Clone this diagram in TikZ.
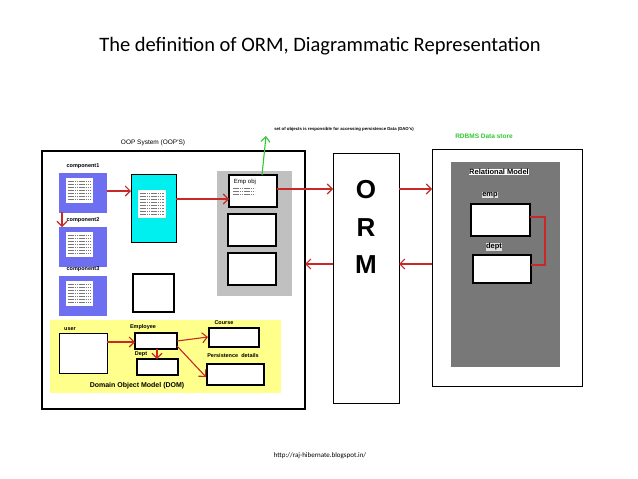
\documentclass[tikz,border=0pt]{standalone}
\usepackage{fontspec}
\setmainfont{Carlito}
\newfontfamily\ars{Liberation Sans}
\usetikzlibrary{arrows.meta}
\definecolor{comp}{RGB}{110,110,240}
\definecolor{cyanb}{RGB}{0,240,240}
\definecolor{lgrey}{RGB}{192,192,192}
\definecolor{dgrey}{RGB}{120,120,120}
\definecolor{yel}{RGB}{255,255,140}
\definecolor{redl}{RGB}{200,40,40}
\definecolor{grn}{RGB}{50,200,50}
\begin{document}
\begin{tikzpicture}[x=1pt,y=-1pt,
 box/.style={draw=black,line width=1.2pt,fill=white},
 arr/.style={draw=redl,line width=1.1pt,-{Straight Barb[length=5pt,width=10pt]}},
 lab/.style={font=\ars\bfseries\fontsize{5.5}{5.5}\selectfont,inner sep=0pt},
 big/.style={font=\ars\bfseries\fontsize{26}{26}\selectfont,inner sep=0pt}]
\useasboundingbox[fill=white] (0,0) rectangle (638,479);
\node[font=\fontsize{20.5}{20.5}\selectfont] (title) at (320,46) {The definition of ORM, Diagrammatic Representation};
\node[font=\fontsize{7}{7}\selectfont] (url) at (320,456) {http://raj-hibernate.blogspot.in/};
% OOP system
\draw[box] (42,151) rectangle (305,409);
\node[font=\ars\fontsize{6.5}{6.5}\selectfont] (ooplab) at (153,143) {OOP System (OOP'S)};
\foreach \n/\y/\t in {c1/173/component1,c2/227/component2,c3/276/component3}{
 \fill[comp] (59,\y) rectangle ++(48,40);
 \fill[white] (66,\y+5) rectangle ++(27,25);
 \foreach \k in {0,...,6} \draw[dgrey,line width=1pt,dash pattern=on 1.5pt off 0.7pt] (68,\y+8+3*\k) -- (91,\y+8+3*\k);
 \node[lab] (\n) at (83,\y-7) {\t};
}
\coordinate (c1s) at (62,212); \coordinate (c2n) at (62,227);
\draw[arr] (c1s) -- (c2n);
\draw[fill=cyanb,line width=1pt] (131,174) rectangle (176,242);
\fill[white] (138,190) rectangle (166,218);
\foreach \k in {0,...,7} \draw[dgrey,line width=1pt,dash pattern=on 1.5pt off 0.7pt] (140,193+3*\k) -- (164,193+3*\k);
\draw[box] (133,274) rectangle (174,312);
\coordinate (c1e) at (107,191); \coordinate (cyw) at (131,191);
\draw[arr] (c1e) -- (cyw);
% grey panel
\fill[lgrey] (217,171) rectangle (292,296);
\draw[box] (229,175) rectangle (277,207);
\node[font=\ars\fontsize{6}{6}\selectfont,inner sep=0] (empobj) at (245,182) {Emp obj};
\foreach \k in {0,...,2} \draw[dgrey,line width=1pt,dash pattern=on 1.5pt off 0.7pt] (233,188+3*\k) -- (255,188+3*\k);
\draw[box] (228,214) rectangle (276,246);
\draw[box] (228,253) rectangle (276,285);
\coordinate (cye) at (176,199); \coordinate (empw) at (229,199);
\draw[arr] (cye) -- (empw);
\coordinate (gs) at (262,175); \coordinate (ge) at (266,136);
\draw[grn,line width=1.1pt,-{Straight Barb[length=5pt,width=9pt]}] (gs) -- (ge);
\node[font=\ars\bfseries\fontsize{4.3}{4.3}\selectfont] (dao) at (344,129) {set of objects is responsible for accessing persistence Data (DAO's)};
% yellow DOM
\fill[yel] (50,320) rectangle (281,393);
\draw[box,line width=0.8pt] (59,333) rectangle (107,373); \node[lab] (user) at (70,329) {user};
\draw[box] (135,333) rectangle (177,349); \node[lab] (emp) at (143,327) {Employee};
\draw[box] (137,359) rectangle (178,375); \node[lab] (dept) at (141,354) {Dept};
\draw[box] (209,328) rectangle (259,347); \node[lab] (course) at (224,323) {Course};
\draw[box] (207,364) rectangle (264,385); \node[lab] (pers) at (233,356) {Persistence\ \ details};
\node[font=\ars\bfseries\fontsize{7}{7}\selectfont] (dom) at (137,386) {Domain Object Model (DOM)};
\draw[arr] (107,342) -- (135,342);
\draw[arr] (157,349) -- (157,359);
\draw[arr] (177,341) -- (208,337);
\draw[arr] (177,346) -- (206,377);
% ORM
\draw[box,line width=1pt] (333,153) rectangle (399,403);
\node[big] (o) at (366,190) {O};
\node[big] (r) at (366,228) {R};
\node[big] (m) at (366,265) {M};
\draw[arr] (277,189) -- (333,189);
\draw[arr] (333,264) -- (305,264);
\draw[arr] (399,189) -- (432,189);
\draw[arr] (432,264) -- (399,264);
% RDBMS
\draw[box,line width=1pt] (432,149) rectangle (582,386);
\node[font=\ars\bfseries\fontsize{6.5}{6.5}\selectfont,text=grn] (rd) at (484,136) {RDBMS Data store};
\fill[dgrey] (451,162) rectangle (560,367);
\node[font=\ars\bfseries\fontsize{7.5}{7.5}\selectfont,fill=white,inner sep=0.5pt] (rm) at (499,172) {Relational Model};
\node[font=\ars\bfseries\fontsize{7.5}{7.5}\selectfont,fill=lgrey!50,inner sep=0.5pt] (empl) at (490,195) {emp};
\node[font=\ars\bfseries\fontsize{7.5}{7.5}\selectfont,fill=lgrey!50,inner sep=0.5pt] (deptl) at (494,247) {dept};
\draw[box] (471,204) rectangle (530,236);
\draw[box] (473,255) rectangle (531,283);
\draw[redl,line width=1.2pt] (530,217) -- (545,217) -- (545,265) -- (531,265);
\end{tikzpicture}
\end{document}
